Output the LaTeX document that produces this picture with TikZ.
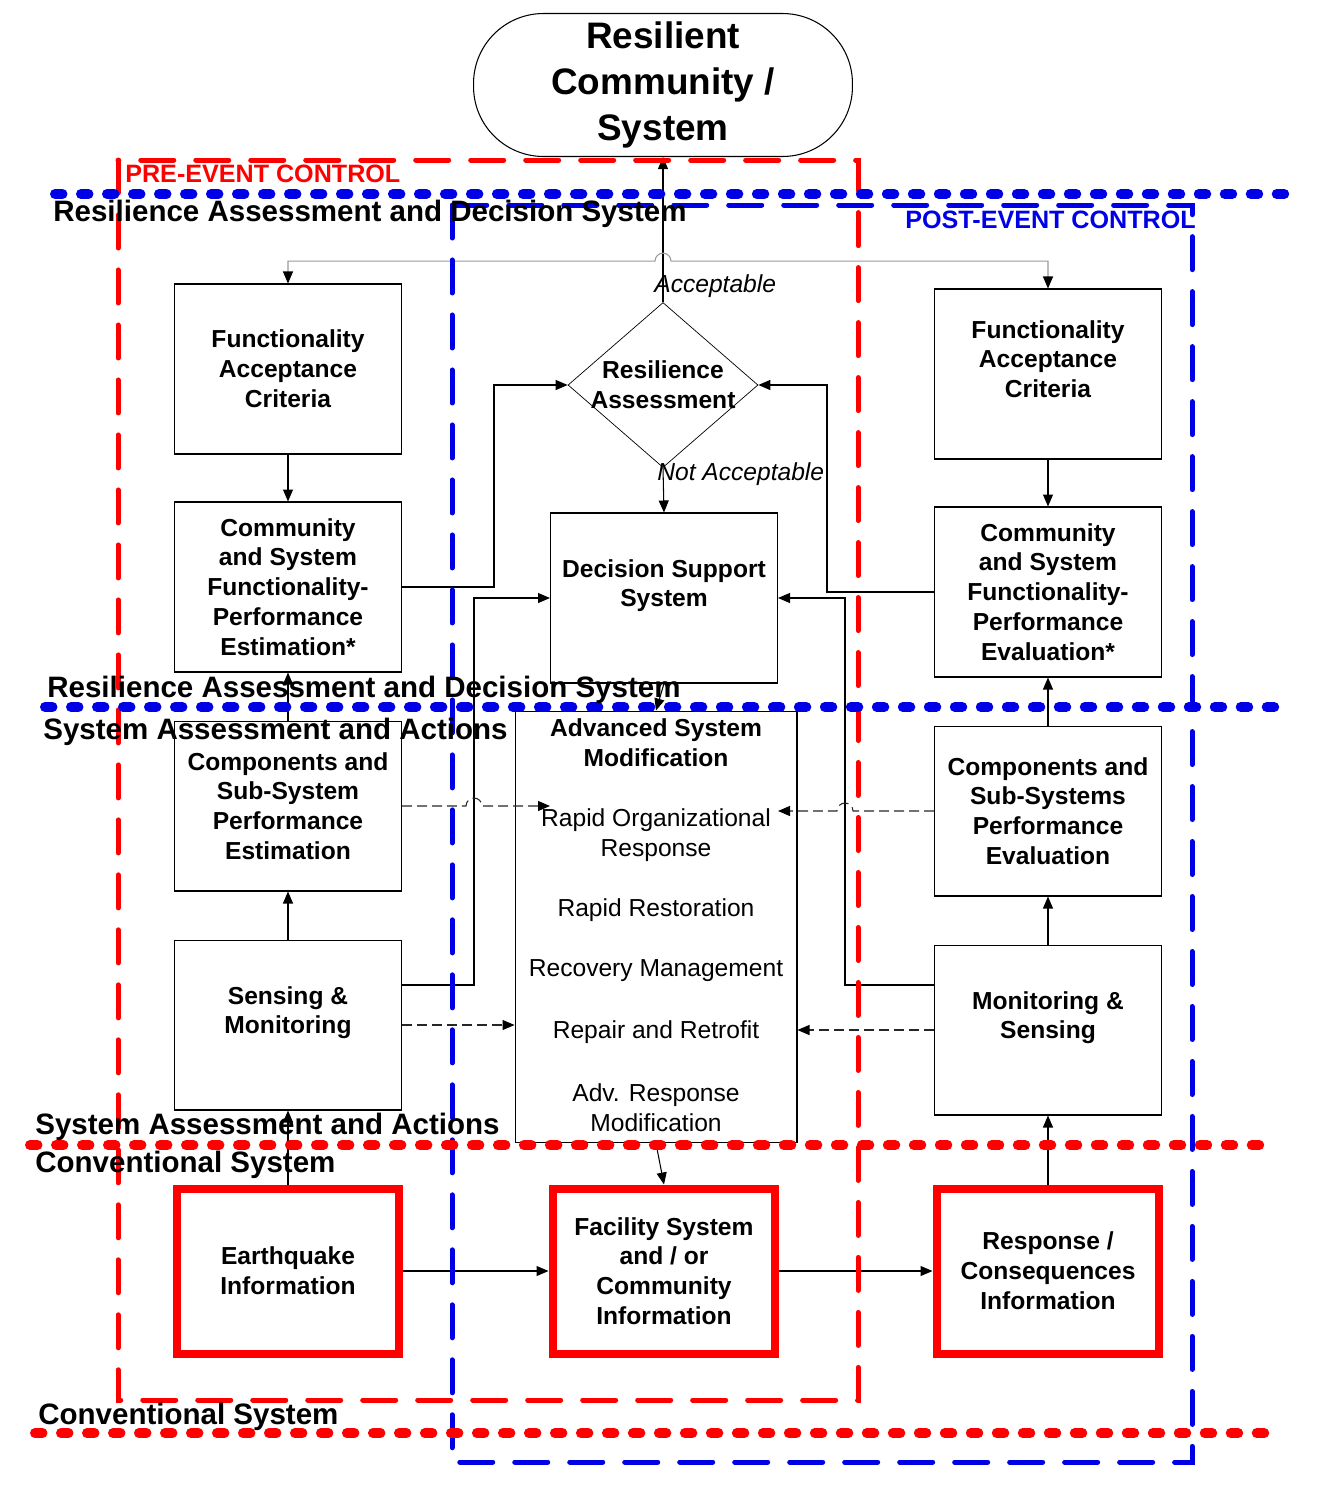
\documentclass[tikz,border=0pt]{standalone}
\usepackage{fontspec}
\setmainfont{Liberation Sans}
\definecolor{ctrlRed}{HTML}{FF0000}
\definecolor{ctrlBlue}{HTML}{0000E6}
\usetikzlibrary{shapes.geometric, arrows.meta, positioning, calc}

\begin{document}
\begin{tikzpicture}[x=0.02cm, y=-0.02cm,
    box/.style={draw, line width=0.6pt, minimum width=4.54cm, minimum height=3.4cm,
      inner sep=2pt, align=center, font=\fontsize{14}{17}\selectfont\bfseries},
    infobox/.style={box, draw=ctrlRed, line width=0.16cm,
      minimum width=4.46cm, minimum height=3.3cm},
    boxtext/.style={inner sep=0pt, align=center, font=\fontsize{14}{17}\selectfont\bfseries},
    item/.style={inner sep=0pt, align=center, font=\fontsize{14}{17}\selectfont},
    note/.style={inner sep=0pt, anchor=west, font=\fontsize{14}{17}\selectfont\itshape},
    layer/.style={inner sep=0pt, anchor=west, font=\fontsize{16.8}{20}\selectfont\bfseries},
    ctrl/.style={inner sep=0pt, anchor=west, font=\fontsize{14.3}{17}\selectfont\bfseries},
    tip/.tip={Triangle[length=0.24cm, width=0.2cm, color=black]},
    link/.style={line width=0.6pt, -tip},
    dashlink/.style={link, black!85, dash pattern=on 0.2cm off 0.1cm},
    graylink/.style={line width=0.6pt, black!40, tip-tip},
    ctrlframe/.style={line width=0.1cm, line cap=round, dash pattern=on 0.66cm off 0.44cm},
    layerline/.style={line width=0.2cm, line cap=round, dash pattern=on 0.15cm off 0.37cm}]
  \useasboundingbox (0,0) rectangle (1317,1485);

  % top goal
  \node[draw, line width=0.6pt, rounded corners=1.4cm, minimum width=7.58cm,
    minimum height=2.86cm, inner sep=0pt, align=center,
    font=\fontsize{21}{26}\selectfont\bfseries] (pill) at (663,85) {Resilient\\Community /\\System};

  % pre-event column
  \node[box] (lfac) at (288,369) {Functionality\\Acceptance\\Criteria};
  \node[box] (lcsf) at (288,587) {Community\\and System\\Functionality-\\Performance\\Estimation*};
  \node[box] (lcomp) at (288,806) {Components and\\Sub-System\\Performance\\Estimation};
  \node[box] (lsens) at (288,1025) {Sensing \&\\Monitoring\\~};
  \node[infobox] (quake) at (288,1271) {Earthquake\\Information};

  % middle column
  \node[diamond, draw, line width=0.4pt, minimum width=3.8cm, minimum height=3.3cm,
    inner sep=0pt] (ra) at (663,385) {};
  \node[boxtext] (ratext) at (ra) {Resilience\\Assessment};
  \node[box] (dss) at (664,598) {Decision Support\\System\\~};
  \node[draw, line width=0.6pt, minimum width=5.64cm, minimum height=8.64cm] (asm) at (656,927) {};
  \node[boxtext] (asmtitle) at (656,743) {Advanced System\\Modification};
  \node[item] (rapidorg) at (656,835) {Rapid Organizational\\Response};
  \node[item] (rapidrest) at (656,910) {Rapid Restoration};
  \node[item] (recovery) at (656,971) {Recovery Management};
  \node[item] (repair) at (656,1032) {Repair and Retrofit};
  \node[item] (advresp) at (656,1108) {Adv. Response\\Modification};
  \node[infobox] (fac) at (664,1271) {Facility System\\and / or\\Community\\Information};

  % post-event column
  \node[box] (rfac) at (1048,374) {Functionality\\Acceptance\\Criteria\\~};
  \node[box] (rcsf) at (1048,592) {Community\\and System\\Functionality-\\Performance\\Evaluation*};
  \node[box] (rcomp) at (1048,811) {Components and\\Sub-Systems\\Performance\\Evaluation};
  \node[box] (rmon) at (1048,1030) {Monitoring \&\\Sensing\\~};
  \node[infobox] (resp) at (1048,1271) {Response /\\Consequences\\Information};

  % decision loop
  \draw[link] (ra.north) -- (pill.south);
  \coordinate (split) at ($(ra.north)+(0,-41)$);
  \draw[graylink] (lfac.north) |- ($(split)+(-8,0)$)
    arc[start angle=180, end angle=0, radius=0.16cm] -| (rfac.north);
  \node[note] (acc) at ($(ra.north)+(-9,-16)$) {Acceptable};
  \draw[link] (ra.south) -- (dss.north);
  \node[note] (nacc) at ($(ra.south)+(-6,6)$) {Not Acceptable};
  \draw[link] (lcsf.east) -- ++(92,0) |- (ra.west);
  \draw[link] (rcsf.west) -- ++(-107,0) |- (ra.east);
  \coordinate (lbend) at ($(lsens.east)+(72,-40)$);
  \coordinate (rbend) at ($(rmon.west)+(-89,-45)$);
  \draw[link] ($(lsens.east)+(0,-40)$) -- (lbend) |- (dss.west);
  \draw[link] ($(rmon.west)+(0,-45)$) -- (rbend) |- (dss.east);
  \draw[link] (dss.south) -- (asm.north);
  \draw[link] (asm.south) -- (fac.north);

  % vertical flows
  \draw[link] (lfac) -- (lcsf);
  \draw[link] (lcomp) -- (lcsf);
  \draw[link] (lsens) -- (lcomp);
  \draw[link] (quake) -- (lsens);
  \draw[link] (rfac) -- (rcsf);
  \draw[link] (rcomp) -- (rcsf);
  \draw[link] (rmon) -- (rcomp);
  \draw[link] (resp) -- (rmon);
  \draw[link] (quake) -- (fac);
  \draw[link] (fac) -- (resp);

  % actions
  \draw[dashlink] (lcomp.east) -- ($(lcomp.east -| lbend)+(-8,0)$)
    arc[start angle=180, end angle=0, radius=0.16cm] -- (lcomp.east -| dss.west);
  \draw[dashlink] (rcomp.west) -- ($(rcomp.west -| rbend)+(8,0)$)
    arc[start angle=0, end angle=180, radius=0.16cm] -- (rcomp.west -| dss.east);
  \draw[dashlink] (lsens.east) -- (lsens.east -| asm.west);
  \draw[dashlink] (rmon.west) -- (rmon.west -| asm.east);

  % control frames and layers
  \draw[ctrlframe, ctrlRed] (118,160) rectangle (858,1400);
  \draw[ctrlframe, ctrlBlue] (452,205) rectangle (1192,1462);
  \draw[layerline, ctrlBlue] (55,194) -- (1285,194);
  \draw[layerline, ctrlBlue] (45,707) -- (1280,707);
  \draw[layerline, ctrlRed] (30,1145) -- (1265,1145);
  \draw[layerline, ctrlRed] (35,1433) -- (1265,1433);

  \node[ctrl, text=ctrlRed] (prelbl) at (125,174) {PRE-EVENT CONTROL};
  \node[ctrl, text=ctrlBlue] (postlbl) at (905,220) {POST-EVENT CONTROL};
  \node[layer] (radtop) at (53,214) {Resilience Assessment and Decision System};
  \node[layer] (radbot) at (47,690) {Resilience Assessment and Decision System};
  \node[layer] (saatop) at (43,732) {System Assessment and Actions};
  \node[layer] (saabot) at (35,1127) {System Assessment and Actions};
  \node[layer] (constop) at (35,1165) {Conventional System};
  \node[layer] (consbot) at (38,1417) {Conventional System};
\end{tikzpicture}
\end{document}
